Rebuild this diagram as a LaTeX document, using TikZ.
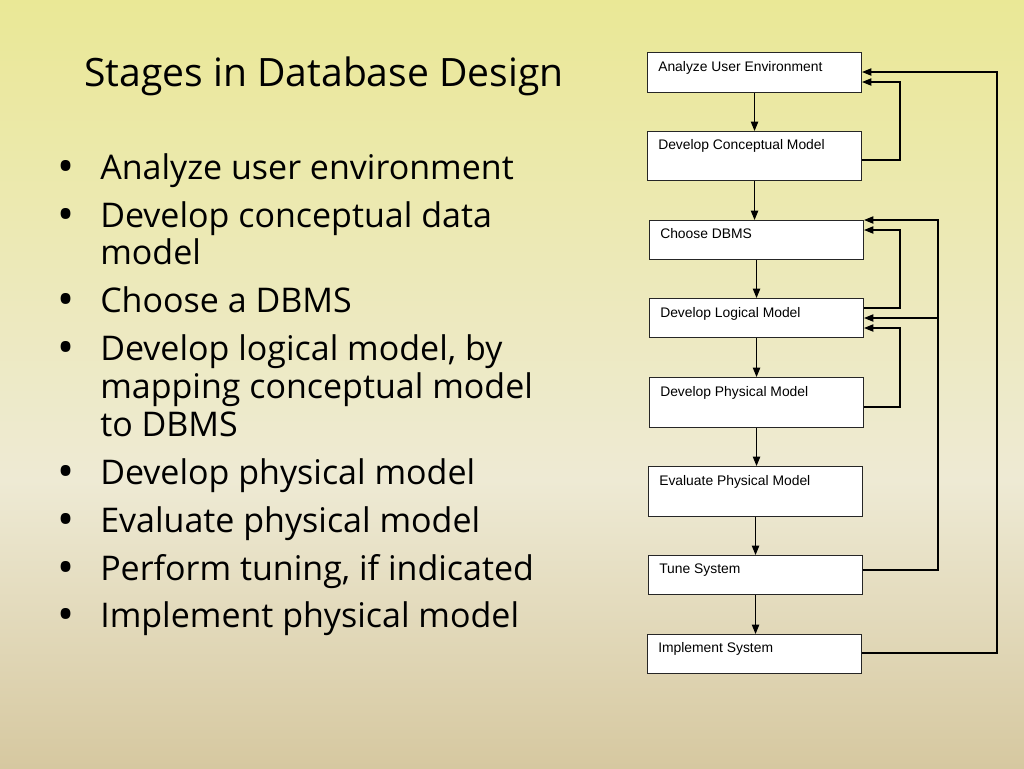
\documentclass[tikz,border=0pt]{standalone}
\usepackage{fontspec}
\setmainfont{Open Sans}
\newfontfamily\boxfont{Liberation Sans}
\usetikzlibrary{arrows.meta}
\begin{document}
\begin{tikzpicture}[x=0.75pt,y=-0.75pt,
  stage/.style={draw=black!85,fill=white,line width=0.8pt,minimum width=160.5pt,minimum height=#1,inner sep=0pt},
  stage/.default=30pt,
  lbl/.style={anchor=north west,font=\boxfont\fontsize{10.4pt}{11pt}\selectfont,inner sep=0pt},
  bul/.style={anchor=base west,font=\fontsize{25.5pt}{28pt}\selectfont,inner sep=0pt},
  dot/.style={anchor=base west,font=\fontsize{34pt}{28pt}\selectfont,inner sep=0pt},
  conn/.style={line width=0.8pt,-{Triangle[length=7pt,width=5.5pt]}},
  fb/.style={line width=0.8pt,-{Triangle[length=7pt,width=5.5pt]}}]
\shade[top color={rgb,255:red,234;green,232;blue,150},bottom color={rgb,255:red,238;green,234;blue,212}] (0,0) rectangle (1024,480);
\shade[top color={rgb,255:red,238;green,234;blue,212},bottom color={rgb,255:red,214;green,200;blue,160}] (0,480) rectangle (1024,768);
\useasboundingbox (0,0) rectangle (1024,768);
\node[anchor=base west,font=\fontsize{29.3pt}{32pt}\selectfont,inner sep=0pt] (title) at (84,86) {Stages in Database Design};
\foreach \y/\t/\b in {179/Analyze user environment/1,227/Develop conceptual data/1,264/model/0,312/Choose a DBMS/1,360/{Develop logical model, by}/1,398/mapping conceptual model/0,436/to DBMS/0,484/Develop physical model/1,532/Evaluate physical model/1,580/{Perform tuning, if indicated}/1,627/Implement physical model/1}{
  \node[bul] (t\y) at (100,\y) {\t};
  \ifnum\b=1 \node[dot] (b\y) at (57,\y+3) {•};\fi
}
\node[stage=30pt,anchor=north west] (au) at (647,52) {};
\node[stage=36.75pt,anchor=north west] (cm) at (647,131) {};
\node[stage=29.25pt,anchor=north west] (db) at (649,220) {};
\node[stage=29.25pt,anchor=north west] (lg) at (649,298) {};
\node[stage=37.5pt,anchor=north west] (ph) at (649,377) {};
\node[stage=37.5pt,anchor=north west] (ev) at (648,466) {};
\node[stage=29.25pt,anchor=north west] (ts) at (648,555) {};
\node[stage=29.25pt,anchor=north west] (im) at (647,634) {};
\node[lbl] (l1) at (658,61) {Analyze User Environment};
\node[lbl] (l2) at (658,139) {Develop Conceptual Model};
\node[lbl] (l3) at (660,228) {Choose DBMS};
\node[lbl] (l4) at (660,307) {Develop Logical Model};
\node[lbl] (l5) at (660,386) {Develop Physical Model};
\node[lbl] (l6) at (659,475) {Evaluate Physical Model};
\node[lbl] (l7) at (659,564) {Tune System};
\node[lbl] (l8) at (658,642) {Implement System};
\foreach \a/\b in {au/cm,cm/db,db/lg,lg/ph,ph/ev,ev/ts,ts/im}{\draw[conn] (\a.south) -- (\a.south |- \b.north);}
% feedback loops
\draw[fb] (im.east |- 0,653) -- (997,653) -- (997,72) -- (au.east |- 0,72);
\draw[fb] (cm.east |- 0,160) -- (900,160) -- (900,82) -- (au.east |- 0,82);
\draw[fb] (lg.east |- 0,308) -- (900,308) -- (900,230) -- (db.east |- 0,230);
\draw[fb] (ph.east |- 0,407) -- (900,407) -- (900,328) -- (lg.east |- 0,328);
\draw[fb] (ts.east |- 0,570) -- (938,570) -- (938,220) -- (db.east |- 0,220);
\draw[fb] (938,318) -- (lg.east |- 0,318);
\end{tikzpicture}
\end{document}
